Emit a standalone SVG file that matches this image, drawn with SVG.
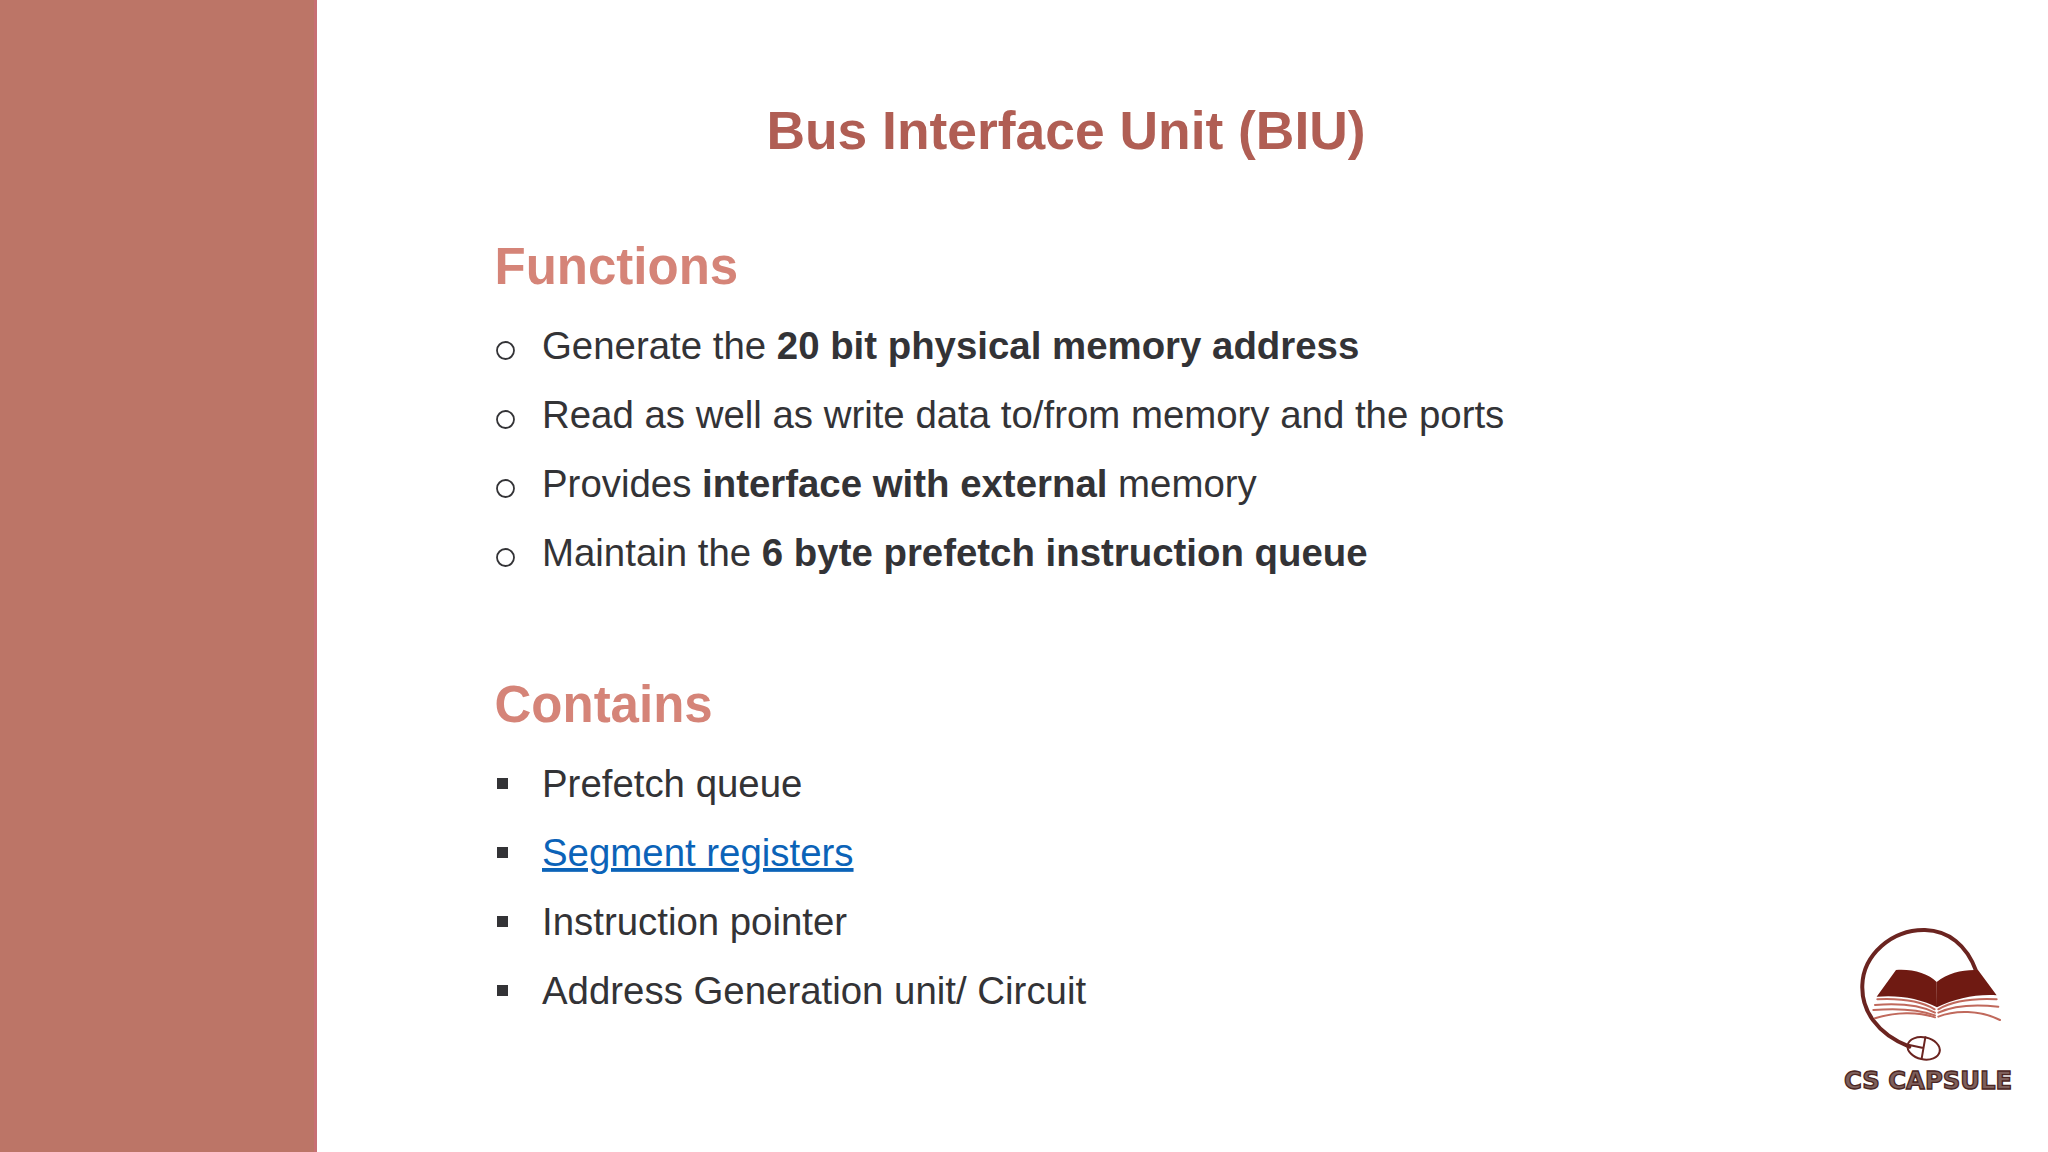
<svg xmlns="http://www.w3.org/2000/svg" width="2048" height="1152" viewBox="0 0 2048 1152">
<style>
text{font-family:"Liberation Sans",Arial,sans-serif}
.title{font-size:53.400px;font-weight:700;fill:#b05e54}
.head{font-size:51px;font-weight:700;fill:#d58478}
.item{font-size:38.400px;fill:#333336}
.b{font-weight:700}
.link{fill:#0b63b8;text-decoration:underline}
.bul{fill:none;stroke:#333336;stroke-width:1.800}
.sq{fill:#333336}
.logo{fill:#6f1a12;stroke:none}
.ln{fill:none;stroke:#6b2420;stroke-linecap:round}
.pg{fill:none;stroke:#c0695c;stroke-width:6;stroke-linecap:round}
.cap{font-size:24px;font-weight:700;fill:#7d5f5b;stroke:#4a2522;stroke-width:1.300;font-family:"DejaVu Sans",sans-serif}
</style>
<rect width="2048" height="1152" fill="#fff"/>
<rect id="sidebar" width="316" height="1152" fill="#bc7567"/>
<rect x="314" width="3" height="1152" fill="#c76f73"/>
<g id="title"><text class="title" x="1066" y="149" text-anchor="middle">Bus Interface Unit (BIU)</text></g>
<g id="functions">
<text class="head" x="494.500" y="284">Functions</text>
<circle class="bul" cx="505.500" cy="350.500" r="8.500"/>
<text class="item" x="542" y="359">Generate the <tspan class="b">20 bit physical memory address</tspan></text>
<circle class="bul" cx="505.500" cy="419.500" r="8.500"/>
<text class="item" x="542" y="428">Read as well as write data to/from memory and the ports</text>
<circle class="bul" cx="505.500" cy="488.500" r="8.500"/>
<text class="item" x="542" y="497">Provides <tspan class="b">interface with external</tspan> memory</text>
<circle class="bul" cx="505.500" cy="557.500" r="8.500"/>
<text class="item" x="542" y="566">Maintain the <tspan class="b">6 byte prefetch instruction queue</tspan></text>
</g>
<g id="contains">
<text class="head" x="494.500" y="722">Contains</text>
<rect class="sq" x="497" y="778" width="11" height="11"/>
<text class="item" x="542" y="797">Prefetch queue</text>
<rect class="sq" x="497" y="847" width="11" height="11"/>
<text class="item link" x="542" y="866">Segment registers</text>
<rect class="sq" x="497" y="916" width="11" height="11"/>
<text class="item" x="542" y="935">Instruction pointer</text>
<rect class="sq" x="497" y="985" width="11" height="11"/>
<text class="item" x="542" y="1004">Address Generation unit/ Circuit</text>
</g>
<g id="logo">
<g transform="translate(1820 910) scale(.3333)">
<path class="ln" stroke-width="12" d="M468 182C440 105 385 62 315 60C215 58 130 135 127 225C124 300 170 372 268 410"/>
<path class="logo" d="M170 260L228 180C275 176 325 190 350 216L351 292C300 265 235 254 170 260Z"/>
<path class="logo" d="M350 216C385 188 430 178 474 180L530 256C470 252 405 265 351 292Z"/>
<path class="pg" d="M172 268C235 265 300 272 344 298"/>
<path class="pg" d="M165 285C230 280 300 285 345 308"/>
<path class="pg" d="M160 300C225 295 295 298 345 316"/>
<path class="pg" d="M165 325C225 305 295 305 345 322"/>
<path class="pg" d="M530 268C470 265 400 272 355 298"/>
<path class="pg" d="M535 290C470 283 400 287 355 308"/>
<path class="pg" d="M540 330C480 300 405 300 355 320"/>
<g class="ln" stroke-width="6">
<ellipse cx="311" cy="415" rx="49" ry="33" transform="rotate(12 311 415)"/>
<path d="M268 405L310 414M316 382L305 446"/>
</g>
</g>
<text class="cap" x="1844" y="1089" textLength="168" lengthAdjust="spacingAndGlyphs">CS CAPSULE</text>
</g>
</svg>
